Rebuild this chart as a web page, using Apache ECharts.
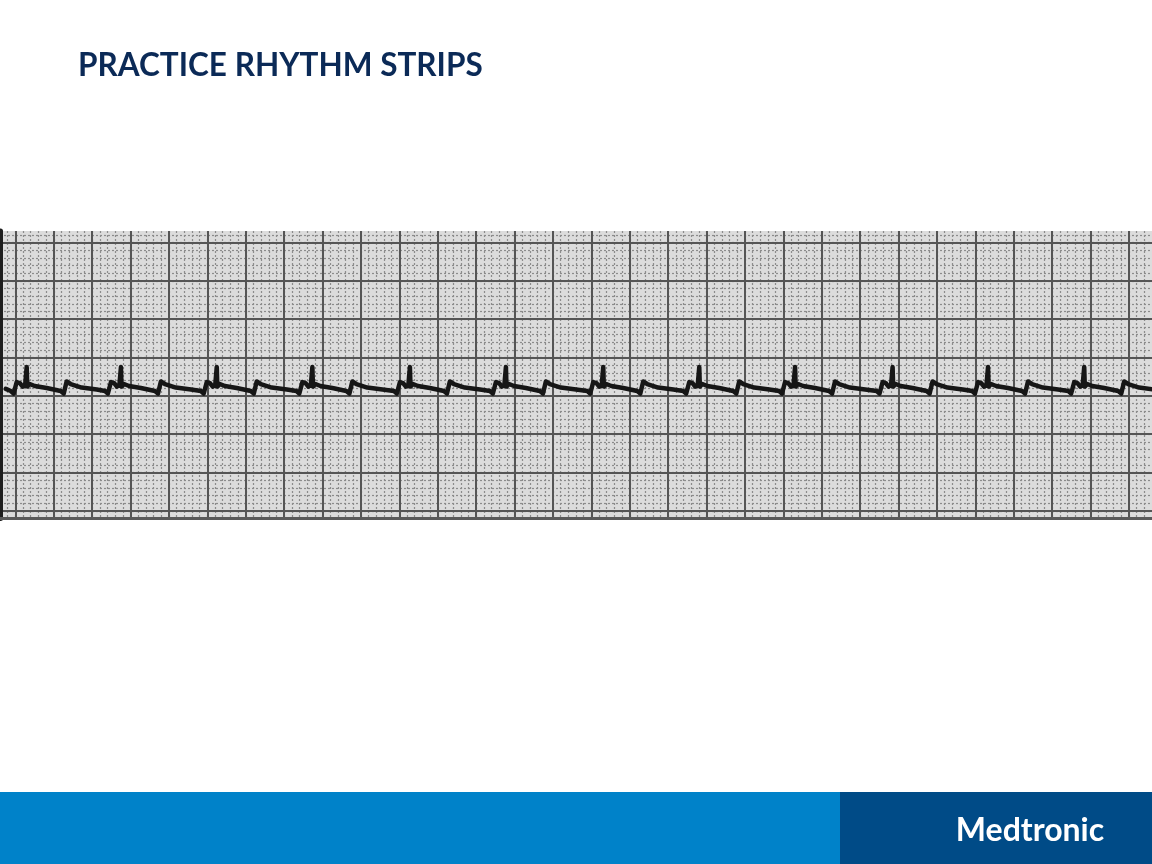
<!DOCTYPE html>
<html><head><meta charset="utf-8">
<script src="https://cdn.jsdelivr.net/npm/echarts@6/dist/echarts.min.js"></script>
<style>html,body{margin:0;padding:0;background:#fff}#c{width:1152px;height:864px}</style>
</head><body><div id="c"></div>
<script>
const titleText = 'PRACTICE RHYTHM STRIPS';
const brandText = 'Medtronic';
// pacing spike times (s) read from the strip (25 mm/s paper)
const spikeTimes = [0.059, 0.550, 1.049, 1.547, 2.055, 2.555, 3.062, 3.562, 4.061, 4.569, 5.066, 5.567];
// one beat as read from the strip: time offset from the spike (s) and amplitude (mV)
const beatOffsets = [-0.083, -0.068, -0.052, -0.036, -0.021, -0.008, -0.003, 0, 0.003, 0.016, 0.042, 0.104, 0.177, 0.193, 0.208, 0.229, 0.286, 0.365];
const beatValues  = [0.063, 0.030, 0.180, 0.167, 0.121, 0.141, 0.130, 0.376, 0.121, 0.154, 0.128, 0.102, 0.063, 0.030, 0.187, 0.154, 0.108, 0.082];
const leadIn = [[-0.05, 0.09]];
const timeRange = [-0.08, 5.92];   // seconds
const voltRange = [-1.6, 2.15];    // mV

const trace = leadIn.slice();
spikeTimes.forEach(function (t0) {
  beatOffsets.forEach(function (dt, i) { trace.push([+(t0 + dt).toFixed(4), beatValues[i]]); });
});

const chart = echarts.init(document.getElementById('c'));
const majorLine = { show: true, showMinLine: false, showMaxLine: false, lineStyle: { color: '#555555', width: 2 } };
const minorLine = { show: true, showMinLine: false, showMaxLine: false, lineStyle: { color: '#8c8c8c', width: 1.2, type: [2, 2] } };
const hidden = { axisTick: { show: false }, axisLabel: { show: false } };

chart.setOption({
  animation: false,
  backgroundColor: '#ffffff',
  grid: { left: 0, right: 0, top: 231, height: 287.5, show: true, backgroundColor: '#dcdcdc', borderWidth: 0 },
  xAxis: [
    Object.assign({ type: 'value', min: timeRange[0], max: timeRange[1], interval: 0.04, position: 'top', z: 0,
      axisLine: { show: false }, splitLine: minorLine }, hidden),
    Object.assign({ type: 'value', min: timeRange[0], max: timeRange[1], splitNumber: 30, position: 'bottom', z: 1,
      axisLine: { show: true, onZero: false, lineStyle: { color: '#5a5a5a', width: 3 } }, splitLine: majorLine }, hidden)
  ],
  yAxis: [
    Object.assign({ type: 'value', min: voltRange[0], max: voltRange[1], interval: 0.1, position: 'right', z: 0,
      axisLine: { show: false }, splitLine: minorLine }, hidden),
    Object.assign({ type: 'value', min: voltRange[0], max: voltRange[1], splitNumber: 7, position: 'left', z: 1,
      axisLine: { show: true, onZero: false, lineStyle: { color: '#1e1e1e', width: 5 } }, splitLine: majorLine }, hidden)
  ],
  series: [{
    type: 'line', xAxisIndex: 1, yAxisIndex: 1, data: trace, showSymbol: false, symbol: 'none',
    smooth: false, clip: true, z: 5,
    lineStyle: { color: '#161616', width: 4.5, join: 'round', cap: 'round' }
  }],
  graphic: [
    { type: 'text', x: 78, y: 66, z: 10,
      style: { text: titleText, fill: '#0b2a57', font: 'bold 31.5px Lato, "Open Sans", sans-serif', textVerticalAlign: 'middle' } },
    { type: 'rect', shape: { x: 0, y: 792, width: 840, height: 72 }, style: { fill: '#0082c9' }, z: 10 },
    { type: 'rect', shape: { x: 840, y: 792, width: 312, height: 72 }, style: { fill: '#004b87' }, z: 10 },
    { type: 'text', x: 1030, y: 831, z: 11,
      style: { text: brandText, fill: '#ffffff', font: 'bold 32px Lato, "Open Sans", sans-serif', textAlign: 'center', textVerticalAlign: 'middle' } }
  ]
});
</script></body></html>
